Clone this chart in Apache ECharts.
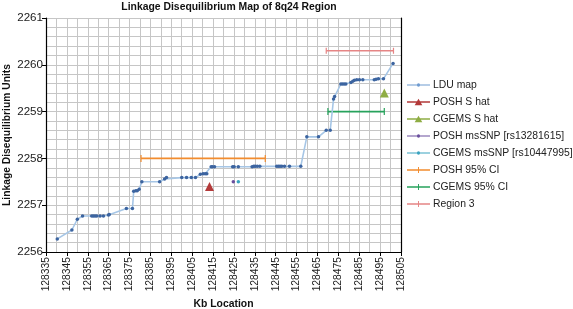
<!DOCTYPE html>
<html>
<head>
<meta charset="utf-8">
<script src="https://cdn.jsdelivr.net/npm/echarts@6/dist/echarts.min.js"></script>
<style>
  html, body { margin: 0; padding: 0; background: #fff; }
  #container { width: 573px; height: 309px; }
</style>
</head>
<body>
<div id="container"></div>
<script>
// LDU map points (Kb location, LD units)
var ldKb = [128340.4, 128347.4, 128350.0, 128352.5, 128356.9, 128357.7, 128358.5, 128359.3, 128360.9, 128362.5,
    128364.9, 128365.3, 128373.5, 128376.4, 128377.0, 128378.0, 128378.7, 128379.6, 128380.9, 128389.4,
    128391.8, 128392.7, 128400.0, 128402.3, 128404.6, 128406.6, 128408.9, 128410.2, 128411.2, 128412.0,
    128414.1, 128414.7, 128415.7, 128424.4, 128425.1, 128427.1, 128433.7, 128434.5, 128435.2, 128436.2,
    128437.4, 128445.5, 128446.3, 128447.1, 128447.9, 128449.2, 128451.6, 128457.0, 128459.9, 128465.5,
    128469.2, 128471.1, 128472.7, 128473.2, 128476.2, 128477.0, 128477.8, 128478.6, 128481.0, 128481.9,
    128482.7, 128483.8, 128485.1, 128486.7, 128492.2, 128493.1, 128494.2, 128496.6, 128501.2];
var ldUnits = [2256.28, 2256.47, 2256.70, 2256.77, 2256.77, 2256.77, 2256.77, 2256.77, 2256.77, 2256.77,
    2256.79, 2256.80, 2256.93, 2256.93, 2257.30, 2257.31, 2257.31, 2257.34, 2257.50, 2257.50,
    2257.56, 2257.59, 2257.59, 2257.59, 2257.59, 2257.59, 2257.66, 2257.67, 2257.67, 2257.67,
    2257.82, 2257.82, 2257.82, 2257.82, 2257.82, 2257.82, 2257.82, 2257.83, 2257.83, 2257.83,
    2257.83, 2257.83, 2257.83, 2257.83, 2257.83, 2257.83, 2257.83, 2257.83, 2258.46, 2258.46,
    2258.60, 2258.60, 2259.27, 2259.32, 2259.59, 2259.59, 2259.59, 2259.59, 2259.62, 2259.65,
    2259.67, 2259.68, 2259.68, 2259.68, 2259.68, 2259.69, 2259.70, 2259.70, 2260.03];

// single estimates [kb, ldu]
var poshShat = [128413.3, 2257.40];
var cgemsShat = [128497.0, 2259.40];
var poshSnp = [128424.7, 2257.50];
var cgemsSnp = [128427.1, 2257.50];

// intervals: [startKb, endKb, ldu]
var poshCI = [128380.5, 128440.0, 2258.00];
var cgemsCI = [128470.0, 128497.0, 2259.00];
var region3 = [128469.2, 128501.4, 2260.30];

var xMin = 128335, xMax = 128505, xStep = 10;
var yMin = 2256, yMax = 2261, yStep = 1;

var ldData = ldKb.map(function (k, i) { return [k, ldUnits[i]]; });
var seg = function (r) { return [[r[0], r[2]], [r[1], r[2]]]; };

var font = 'Liberation Sans, Arial, sans-serif';

// legend icons: line + marker, box 24x10
var iconDot = 'path://M0,0 M24,10 M0,4.4 L24,4.4 L24,5.6 L0,5.6 Z M10.3,5 A1.7,1.7 0 1 1 13.7,5 A1.7,1.7 0 1 1 10.3,5 Z';
var iconTri = 'path://M0,0 M24,10 M0,4.3 L24,4.3 L24,5.7 L0,5.7 Z M12,1.6 L16,8.4 L8,8.4 Z';
var iconTick = 'path://M0,0 M24,10 M0,4.3 L24,4.3 L24,5.7 L0,5.7 Z M11.5,1.8 L12.5,1.8 L12.5,8.2 L11.5,8.2 Z';

var dom = document.getElementById('container');
var myChart = echarts.init(dom);

var option = {
    animation: false,
    textStyle: { fontFamily: font },
    title: {
        text: 'Linkage Disequilibrium Map of 8q24 Region',
        left: 224,
        textAlign: 'center',
        top: -3,
        textStyle: { fontSize: 10.4, fontWeight: 'bold', color: '#111', fontFamily: font }
    },
    legend: {
        orient: 'vertical',
        left: 407,
        top: 79,
        padding: 0,
        itemWidth: 23,
        itemHeight: 10,
        itemGap: 5,
        textStyle: { fontSize: 10.4, lineHeight: 12, color: '#222', fontFamily: font, padding: [0, 0, 0, -2] },
        data: [
            { name: 'LDU map', icon: iconDot, itemStyle: { color: '#6f9bd0' } },
            { name: 'POSH S hat', icon: iconTri },
            { name: 'CGEMS S hat', icon: iconTri },
            { name: 'POSH msSNP [rs13281615]', icon: iconDot },
            { name: 'CGEMS msSNP [rs10447995]', icon: iconDot },
            { name: 'POSH 95% CI', icon: iconTick },
            { name: 'CGEMS 95% CI', icon: iconTick },
            { name: 'Region 3', icon: iconTick }
        ]
    },
    grid: { left: 46, right: 172, top: 18, bottom: 57, outerBoundsMode: 'none' },
    xAxis: {
        type: 'value',
        min: xMin,
        max: xMax,
        interval: xStep,
        name: 'Kb Location',
        nameLocation: 'middle',
        nameGap: 47,
        nameMoveOverlap: false,
        nameTextStyle: { fontSize: 10.4, fontWeight: 'bold', color: '#111', fontFamily: font },
        axisLine: { lineStyle: { color: '#000', width: 1.2 } },
        axisTick: { length: 4, lineStyle: { color: '#000' } },
        axisLabel: {
            rotate: 90, fontSize: 10.3, color: '#222', margin: 5, fontFamily: font,
            formatter: function (v) { return String(v); }
        },
        splitLine: { lineStyle: { color: '#c6c6c6', width: 1 } },
        minorTick: { show: false, splitNumber: 2 },
        minorSplitLine: { show: true, lineStyle: { color: '#c6c6c6', width: 1 } }
    },
    yAxis: [{
        type: 'value',
        min: yMin,
        max: yMax,
        interval: yStep,
        name: 'Linkage Disequilibrium Units',
        nameLocation: 'middle',
        nameGap: 34,
        nameMoveOverlap: false,
        nameTextStyle: { fontSize: 10.3, fontWeight: 'bold', color: '#111', fontFamily: font },
        axisLine: { show: true, lineStyle: { color: '#000', width: 1.2 } },
        axisTick: { show: true, length: 4, lineStyle: { color: '#000' } },
        axisLabel: {
            fontSize: 11.6, color: '#222', margin: 3, fontFamily: font,
            formatter: function (v) { return String(v); }
        },
        splitLine: { lineStyle: { color: '#c6c6c6', width: 1 } },
        minorTick: { show: false, splitNumber: 5 },
        minorSplitLine: { show: true, lineStyle: { color: '#c6c6c6', width: 1 } }
    }, {
        type: 'value',
        position: 'right',
        min: yMin,
        max: yMax,
        interval: yStep,
        axisLine: { show: true, lineStyle: { color: '#000', width: 1.2 } },
        axisTick: { show: false },
        axisLabel: { show: false },
        splitLine: { show: false }
    }],
    series: [
        {
            name: 'LDU map',
            type: 'line',
            data: ldData,
            symbol: 'circle',
            symbolSize: 3.5,
            lineStyle: { color: '#a6c6e6', width: 1.6 },
            itemStyle: { color: '#3c64a0' },
            z: 5
        },
        {
            name: 'POSH S hat',
            type: 'line',
            data: [poshShat],
            symbol: 'triangle',
            symbolSize: 9,
            lineStyle: { color: '#b33a3a', width: 2 },
            itemStyle: { color: '#b33a3a' }
        },
        {
            name: 'CGEMS S hat',
            type: 'line',
            data: [cgemsShat],
            symbol: 'triangle',
            symbolSize: 9,
            lineStyle: { color: '#8fad44', width: 2 },
            itemStyle: { color: '#8fad44' }
        },
        {
            name: 'POSH msSNP [rs13281615]',
            type: 'line',
            data: [poshSnp],
            symbol: 'circle',
            symbolSize: 3.5,
            lineStyle: { color: '#6a4f9e', width: 1.6 },
            itemStyle: { color: '#6a4f9e' }
        },
        {
            name: 'CGEMS msSNP [rs10447995]',
            type: 'line',
            data: [cgemsSnp],
            symbol: 'circle',
            symbolSize: 3.5,
            lineStyle: { color: '#3aa3c0', width: 1.6 },
            itemStyle: { color: '#3aa3c0' }
        },
        {
            name: 'POSH 95% CI',
            type: 'line',
            data: seg(poshCI),
            symbol: 'rect',
            symbolSize: [1.2, 7],
            lineStyle: { color: '#f28c2e', width: 1.8 },
            itemStyle: { color: '#f28c2e' }
        },
        {
            name: 'CGEMS 95% CI',
            type: 'line',
            data: seg(cgemsCI),
            symbol: 'rect',
            symbolSize: [1.2, 7],
            lineStyle: { color: '#27a25c', width: 1.8 },
            itemStyle: { color: '#27a25c' }
        },
        {
            name: 'Region 3',
            type: 'line',
            data: seg(region3),
            symbol: 'rect',
            symbolSize: [1.2, 6],
            lineStyle: { color: '#e58585', width: 1.6 },
            itemStyle: { color: '#e58585' }
        }
    ]
};

if (option && typeof option === 'object') {
    myChart.setOption(option);
}
</script>
</body>
</html>
